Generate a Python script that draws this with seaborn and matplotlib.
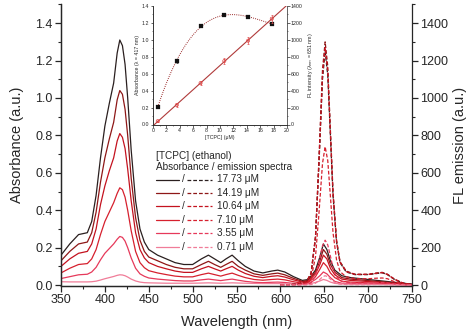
import numpy as np
import pandas as pd
import matplotlib
matplotlib.use("Agg")
import matplotlib.pyplot as plt
from matplotlib.lines import Line2D
from matplotlib.ticker import MultipleLocator
import seaborn as sns

# ---------------- data ----------------
concentrations = ["17.73", "14.19", "10.64", "7.10", "3.55", "0.71"]
series_colors = ["#2a1f1f", "#8e1717", "#c4121f", "#d6202e", "#e6395a", "#f07c98"]

abs_wl = [350, 360, 370, 380, 385, 390, 395, 400, 405, 410, 414, 417, 420, 423, 426, 430, 435, 440, 445,
          450, 460, 470, 480, 490, 500, 510, 518, 525, 532, 538, 545, 552, 560, 570, 580, 590,
          597, 605, 615, 625, 632, 640, 645, 649, 653, 657, 662, 670, 680, 700, 720, 740, 750]
abs_1773 = [.16, .22, .27, .28, .34, .48, .68, .85, .97, 1.08, 1.24, 1.31, 1.28, 1.18, 1.0, .72, .45, .30, .23,
            .19, .16, .14, .12, .11, .11, .14, .16, .14, .12, .14, .16, .13, .10, .075, .065, .075,
            .08, .07, .045, .025, .03, .08, .15, .22, .19, .13, .08, .05, .04, .03, .02, .01, .005]
abs_1419 = [.13, .18, .22, .23, .28, .39, .55, .68, .78, .87, .99, 1.04, 1.02, .94, .80, .57, .36, .24, .18,
            .15, .13, .11, .095, .087, .087, .11, .127, .11, .095, .11, .127, .10, .08, .06, .052, .06,
            .064, .055, .036, .02, .025, .07, .13, .19, .165, .11, .07, .04, .032, .024, .016, .008, .004]
abs_1064 = [.10, .14, .17, .18, .22, .30, .43, .53, .61, .68, .77, .81, .79, .73, .62, .45, .28, .19, .145,
            .12, .10, .087, .075, .068, .068, .087, .10, .087, .075, .087, .10, .08, .062, .047, .04, .047,
            .05, .043, .028, .016, .02, .06, .11, .16, .14, .09, .055, .032, .025, .019, .012, .006, .003]
abs_0710 = [.065, .09, .11, .115, .14, .19, .27, .34, .39, .44, .49, .52, .51, .47, .40, .29, .18, .12, .093,
            .077, .065, .056, .048, .044, .044, .056, .064, .056, .048, .056, .064, .052, .04, .03, .026, .03,
            .032, .028, .018, .01, .015, .045, .085, .12, .10, .065, .04, .02, .016, .012, .008, .004, .002]
abs_0355 = [.035, .045, .055, .058, .07, .095, .135, .17, .195, .22, .245, .26, .255, .235, .20, .145, .09, .06, .047,
            .038, .032, .028, .024, .022, .022, .028, .032, .028, .024, .028, .032, .026, .02, .015, .013, .015,
            .016, .014, .009, .005, .008, .03, .05, .07, .06, .04, .02, .01, .008, .006, .004, .002, .001]
abs_0071 = [.018, .017, .017, .017, .018, .021, .027, .034, .04, .046, .052, .055, .054, .05, .043, .032, .022, .016, .013,
            .012, .011, .01, .01, .01, .01, .011, .012, .011, .01, .011, .012, .011, .01, .009, .008, .008,
            .008, .007, .006, .005, .006, .014, .022, .03, .025, .016, .009, .006, .005, .004, .003, .002, .001]

em_wl = [600, 620, 630, 635, 640, 644, 648, 651, 654, 657, 660, 664, 668, 675, 685, 700, 710, 716, 722, 730, 740, 750]
em_1773 = [0, 5, 20, 60, 250, 650, 1100, 1250, 1120, 800, 480, 230, 120, 70, 56, 56, 62, 66, 56, 30, 10, 3]
em_1419 = [0, 5, 21, 65, 260, 680, 1150, 1300, 1170, 830, 500, 240, 125, 75, 58, 58, 65, 68, 58, 32, 10, 3]
em_1064 = [0, 5, 20, 62, 255, 660, 1120, 1270, 1140, 810, 485, 235, 122, 72, 57, 57, 63, 67, 57, 31, 10, 3]
em_0710 = [0, 3, 12, 37, 150, 385, 650, 740, 665, 475, 280, 135, 72, 44, 34, 34, 37, 38, 34, 18, 6, 2]
em_0355 = [0, 1, 4, 12, 48, 125, 210, 240, 215, 155, 92, 45, 24, 15, 11, 11, 12, 13, 11, 6, 2, 1]
em_0071 = [0, 0, 1, 3, 10, 26, 44, 50, 45, 32, 19, 9, 5, 3, 2, 2, 3, 3, 2, 1, 0, 0]

abs_series = [abs_1773, abs_1419, abs_1064, abs_0710, abs_0355, abs_0071]
em_series = [em_1773, em_1419, em_1064, em_0710, em_0355, em_0071]

# inset data
inset_conc = [0.71, 3.55, 7.10, 10.64, 14.19, 17.73]
inset_abs417 = [0.21, 0.75, 1.16, 1.29, 1.27, 1.19]
inset_abs_err = [0.01, 0.02, 0.01, 0.01, 0.01, 0.02]
inset_fl651 = [40, 230, 490, 750, 990, 1250]
inset_fl_err = [15, 20, 20, 35, 40, 45]

# ---------------- style ----------------
sns.set_theme(style="ticks")
plt.rcParams["font.family"] = ["Liberation Sans", "DejaVu Sans"]
plt.rcParams["axes.linewidth"] = 0.9
plt.rcParams["xtick.major.width"] = 0.9
plt.rcParams["ytick.major.width"] = 0.9
plt.rcParams["xtick.minor.width"] = 0.8
plt.rcParams["ytick.minor.width"] = 0.8

fig = plt.figure(figsize=(4.74, 3.35), dpi=100)
ax = fig.add_axes([0.1287, 0.1462, 0.7405, 0.8405])
ax2 = ax.twinx()

for vals, col in zip(abs_series, series_colors):
    df = pd.DataFrame({"wl": abs_wl, "A": vals})
    sns.lineplot(data=df, x="wl", y="A", color=col, lw=0.9, ax=ax, sort=False)

for vals, col in zip(em_series, series_colors):
    df = pd.DataFrame({"wl": em_wl, "F": vals})
    sns.lineplot(data=df, x="wl", y="F", color=col, lw=0.9, ax=ax2, sort=False,
                 linestyle=(0, (3.0, 1.6)))

ax.set_xlim(350, 750)
ax.set_ylim(-0.005, 1.5)
ax2.set_ylim(-5, 1500)
ax.xaxis.set_major_locator(MultipleLocator(50))
ax.xaxis.set_minor_locator(MultipleLocator(25))
ax.yaxis.set_major_locator(MultipleLocator(0.2))
ax.yaxis.set_minor_locator(MultipleLocator(0.1))
ax2.yaxis.set_major_locator(MultipleLocator(200))
ax2.yaxis.set_minor_locator(MultipleLocator(100))
ax.yaxis.set_major_formatter(matplotlib.ticker.FormatStrFormatter("%.1f"))

for a in (ax, ax2):
    a.tick_params(axis="both", which="major", length=4, direction="out", labelsize=9, pad=2)
    a.tick_params(axis="both", which="minor", length=2.5, direction="out")
    a.spines["top"].set_visible(False)
ax.spines["right"].set_visible(False)

ax.set_xlabel("Wavelength (nm)", fontsize=10.5, labelpad=6)
ax.set_ylabel("Absorbance (a.u.)", fontsize=10.5, labelpad=8)
ax2.set_ylabel("FL emission (a.u.)", fontsize=10.5, labelpad=3)

# ---------------- legend (custom) ----------------
def fx(px):
    return px / 474.0

def fy(py):
    return 1 - py / 335.0

fs_leg = 7.2
fig.text(fx(156), fy(155.5), "[TCPC] (ethanol)", fontsize=fs_leg, va="center", ha="left")
fig.text(fx(156), fy(167.5), "Absorbance / emission spectra", fontsize=fs_leg, va="center", ha="left")
for i, (lab, col) in enumerate(zip(concentrations, series_colors)):
    yy = fy(179.5 + i * 13.4)
    fig.add_artist(Line2D([fx(156), fx(179)], [yy, yy], color=col, lw=0.9))
    fig.text(fx(183.5), yy, "/", fontsize=fs_leg, va="center", ha="center")
    fig.add_artist(Line2D([fx(187), fx(212)], [yy, yy], color=col, lw=0.9, linestyle=(0, (3.0, 1.6))))
    fig.text(fx(217), yy, f"{lab} \u03bcM", fontsize=fs_leg, va="center", ha="left")

# ---------------- inset ----------------
ins = fig.add_axes([fx(153), fy(124.5), fx(287) - fx(153), (124.5 - 6) / 335.0])
ins2 = ins.twinx()
ins.set_xlim(0, 20)
ins.set_ylim(0, 1.4)
ins2.set_ylim(0, 1400)

dfi = pd.DataFrame({"c": inset_conc, "a": inset_abs417, "f": inset_fl651})
sns.regplot(data=dfi, x="c", y="a", order=3, ci=None, scatter=False, truncate=True, ax=ins,
            line_kws={"color": "#9a2a2a", "lw": 0.7, "linestyle": (0, (1, 1.2))})
ins.errorbar(inset_conc, inset_abs417, yerr=inset_abs_err, fmt="none", ecolor="#333333", elinewidth=0.5,
             capsize=1.0, capthick=0.5)
sns.scatterplot(data=dfi, x="c", y="a", marker="s", s=5, color="#111111", edgecolor="#111111", ax=ins, zorder=4)

ins2.set_xlim(0, 20)
sns.regplot(data=dfi, x="c", y="f", order=1, ci=None, scatter=False, truncate=False, ax=ins2,
            line_kws={"color": "#b03a3a", "lw": 0.8})
ins2.errorbar(inset_conc, inset_fl651, yerr=inset_fl_err, fmt="none", ecolor="#e05050", elinewidth=0.5,
              capsize=1.0, capthick=0.5)
sns.scatterplot(data=dfi, x="c", y="f", marker="o", s=5, facecolor="none", edgecolor="#e04040",
                linewidth=0.5, ax=ins2, zorder=4)
ins.set_xlim(0, 20)
ins.set_ylim(0, 1.4)
ins2.set_ylim(0, 1400)

ins.xaxis.set_major_locator(MultipleLocator(2))
ins.xaxis.set_minor_locator(MultipleLocator(1))
ins.yaxis.set_major_locator(MultipleLocator(0.2))
ins.yaxis.set_minor_locator(MultipleLocator(0.1))
ins2.yaxis.set_major_locator(MultipleLocator(200))
ins2.yaxis.set_minor_locator(MultipleLocator(100))
ins.yaxis.set_major_formatter(matplotlib.ticker.FormatStrFormatter("%.1f"))
for a in (ins, ins2):
    a.set_facecolor("none")
    a.tick_params(axis="both", which="major", length=1.8, width=0.5, direction="out", labelsize=3.8, pad=1)
    a.tick_params(axis="both", which="minor", length=1.0, width=0.4, direction="out")
    for s in a.spines.values():
        s.set_linewidth(0.5)
    a.spines["top"].set_visible(False)
ins.spines["right"].set_visible(False)
ins.set_xlabel("[TCPC] (\u03bcM)", fontsize=3.8, labelpad=1.5)
ins.set_ylabel("Absorbance (\u03bb = 417 nm)", fontsize=3.8, labelpad=1.5)
ins2.set_ylabel("FL intensity (\u03bb$_{em}$ = 651 nm)", fontsize=3.8, labelpad=2)

fig.savefig("out.png", dpi=100)
